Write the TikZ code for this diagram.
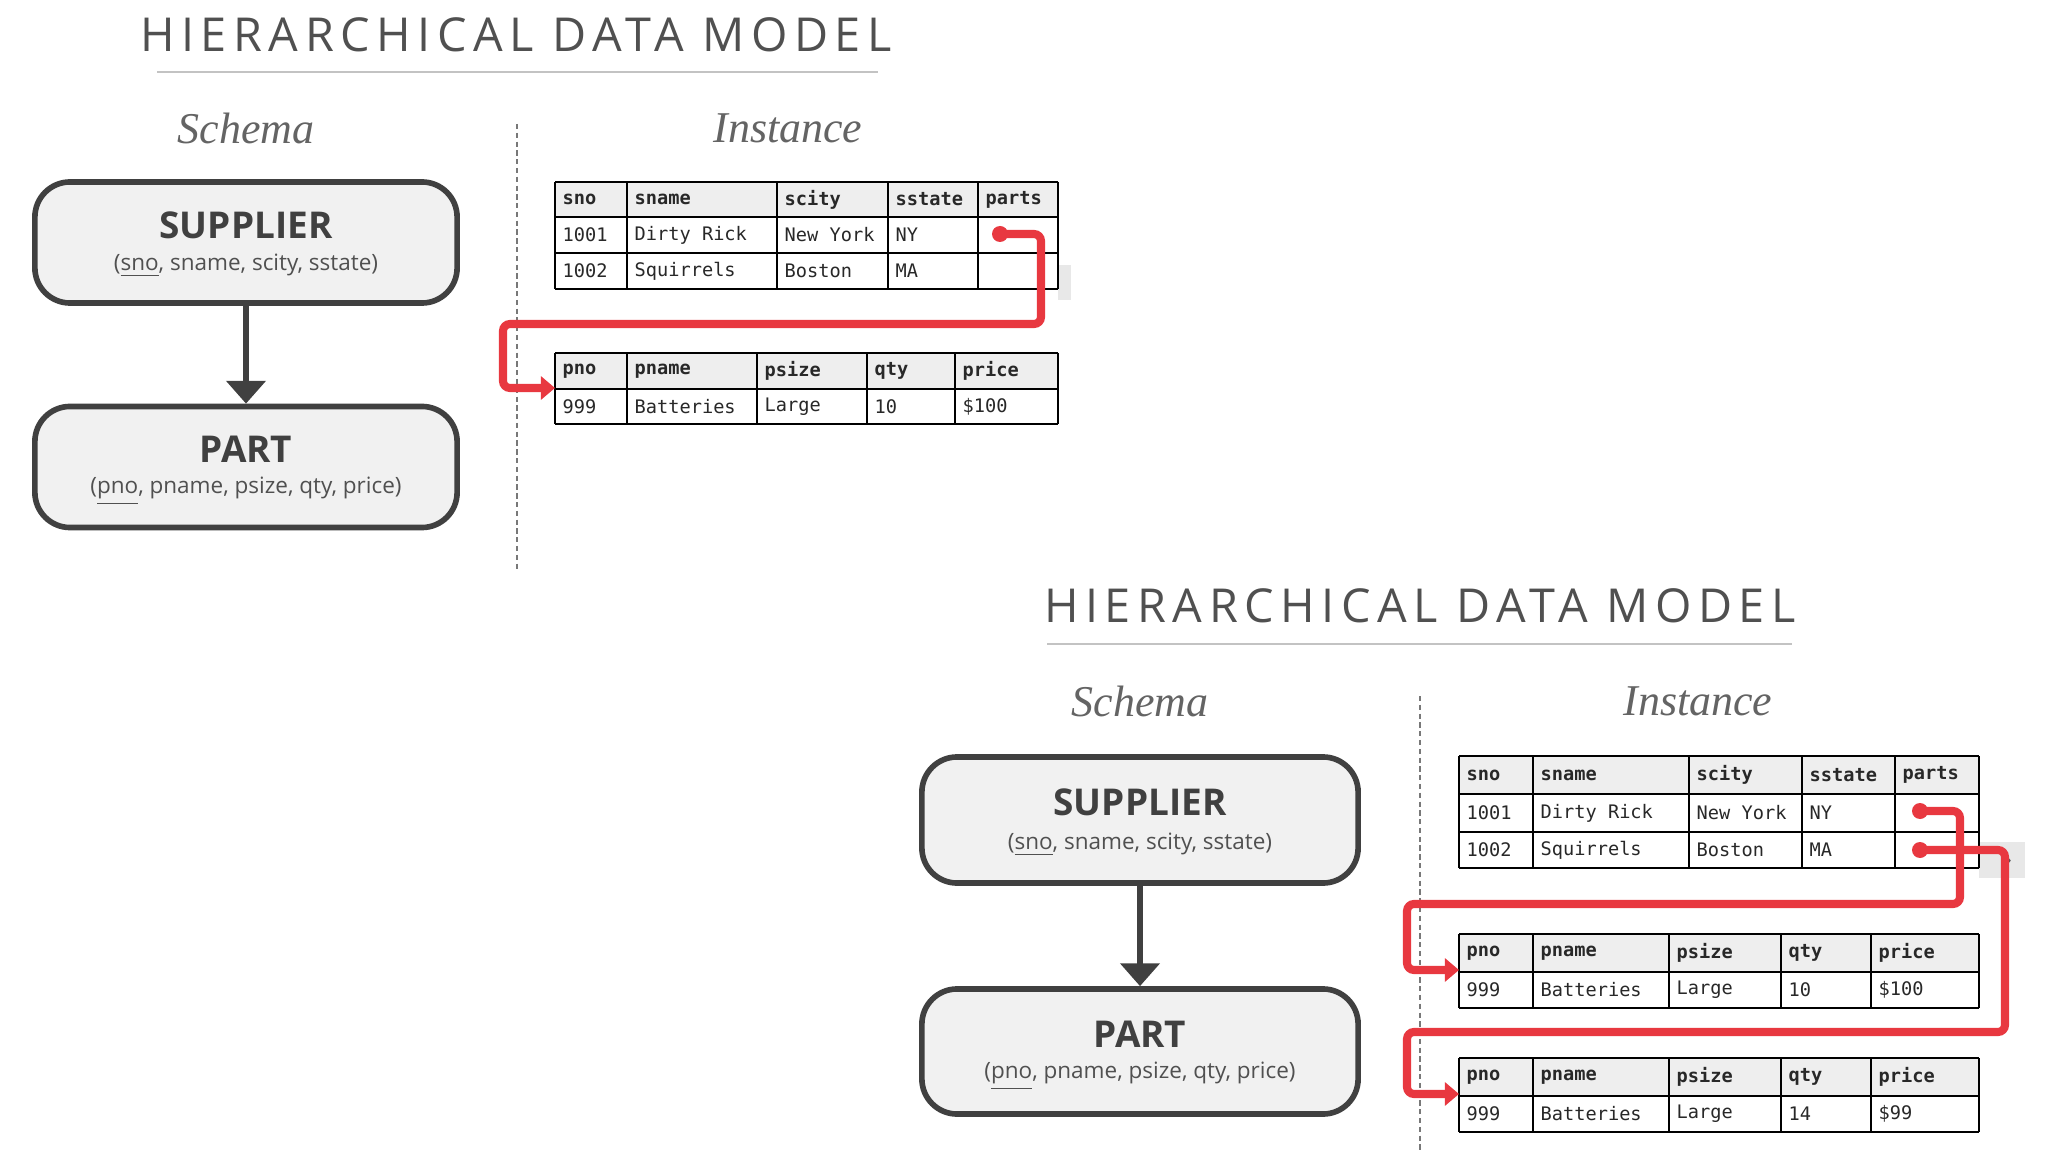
\documentclass[tikz,border=0pt]{standalone}
\usepackage{fontspec}
\setmainfont{Open Sans}
\newfontfamily\monof{DejaVu Sans Mono}
\newfontfamily\serf{Liberation Serif}
\newfontfamily\titlef[LetterSpace=14]{Open Sans}
\usetikzlibrary{arrows.meta}
\definecolor{redc}{RGB}{232,56,64}
\definecolor{boxb}{RGB}{64,64,64}
\definecolor{boxf}{RGB}{241,241,241}
\definecolor{hdrf}{RGB}{238,238,238}
\definecolor{txtg}{RGB}{80,80,80}
\definecolor{ruleg}{RGB}{195,195,195}
\definecolor{subg}{RGB}{100,100,100}
\definecolor{dashg}{RGB}{120,120,120}
\definecolor{celltx}{RGB}{40,40,40}
\definecolor{tabg}{RGB}{232,232,232}
\tikzset{
 sbox/.style={draw=boxb,fill=boxf,line width=1.6pt,rounded corners=10pt,minimum width=4.22cm,minimum height=1.21cm},
 ttl/.style={font=\titlef\fontsize{13.3}{15}\selectfont,text=txtg},
 rule/.style={draw=ruleg,line width=0.7pt},
 sub/.style={font=\serf\itshape\fontsize{12.5}{14}\selectfont,text=subg},
 vdash/.style={draw=dashg,line width=0.4pt,dash pattern=on 1.5pt off 1pt},
 bname/.style={font=\bfseries\fontsize{10.5}{12}\selectfont,text=boxb},
 battr/.style={font=\fontsize{6.4}{8}\selectfont,text=txtg},
 arr/.style={draw=boxb,line width=1.6pt,-{Triangle[length=6.5pt,width=11pt]}},
 rline/.style={draw=redc,line width=2.3pt,rounded corners=2pt,-{Triangle[length=4pt,width=6.5pt]}},
 rdot/.style={fill=redc},
 cell/.style={anchor=west,inner sep=0pt,font=\monof\fontsize{5.3}{6}\selectfont,text=celltx},
 grid/.style={draw=black,line width=0.7pt},
}
% #1 name, #2 cols, #3 rows, #4 last col idx, #5 last row idx, #6 content
\newcommand\mktable[6]{%
 \pgfmathsetmacro\xo{{#2}[0]}\pgfmathsetmacro\xn{{#2}[#4]}%
 \pgfmathsetmacro\yo{{#3}[0]}\pgfmathsetmacro\yi{{#3}[1]}\pgfmathsetmacro\yn{{#3}[#5]}%
 \fill[hdrf] (\xo,\yo) rectangle (\xn,\yi);
 \foreach \xx in {#2} {\draw[grid] (\xx,\yo) -- (\xx,\yn);}
 \foreach \yy in {#3} {\draw[grid] (\xo,\yy) -- (\xn,\yy);}
 \foreach \row [count=\r] in {#6} {
  \foreach \cl [count=\k] in \row {
   \pgfmathsetmacro\xa{{#2}[\k-1]}%
   \pgfmathsetmacro\ya{{#3}[\r-1]}\pgfmathsetmacro\yb{{#3}[\r]}%
   \ifnum\r=1\relax
    \node[cell,font=\monof\bfseries\fontsize{5.3}{6}\selectfont] (#1-\r-\k) at (\xa+7,{(\ya+\yb)/2}) {\cl};
   \else
    \node[cell] (#1-\r-\k) at (\xa+7,{(\ya+\yb)/2}) {\cl};
   \fi
  }
 }
}
\begin{document}
\begin{tikzpicture}[x=0.01cm,y=-0.01cm]
\useasboundingbox (0,0) rectangle (2048,1152);
\fill[white] (0,0) rectangle (2048,1152);
% ===== top =====
\node[ttl] (t1) at (516,35) {HIERARCHICAL DATA MODEL};
\coordinate (r1a) at (157,72); \coordinate (r1b) at (878,72);
\draw[rule] (r1a) -- (r1b);
\node[sub] (s1) at (246,128) {Schema};
\node[sub] (i1) at (788,128) {Instance};
\coordinate (d1a) at (517,124); \coordinate (d1b) at (517,571);
\draw[vdash] (d1a) -- (d1b);
\node[sbox] (sup1) at (246,242.5) {};
\node[bname] (sup1n) at (246,225) {SUPPLIER};
\node[battr] (sup1a) at (246,266) {(\underline{sno}, sname, scity, sstate)};
\node[sbox] (part1) at (246,467) {};
\node[bname] (part1n) at (246,449) {PART};
\node[battr] (part1a) at (246,491) {(\underline{pno}, pname, psize, qty, price)};
\draw[arr] (sup1.south) -- (part1.north);
\fill[tabg] (1058,265) rectangle (1071,300);
\mktable{ta}{555,627,777,888,978,1058}{182,217,253,289}{5}{3}{{sno,sname,scity,sstate,parts},{1001,Dirty Rick,New York,NY,},{1002,Squirrels,Boston,MA,}}
\mktable{tb}{555,627,757,867,955,1058}{353,389,424}{5}{2}{{pno,pname,psize,qty,price},{999,Batteries,Large,10,\$100}}
\coordinate (p1) at (1000,234);
\coordinate (p1t) at (555,388);
\fill[rdot] (p1) circle (8);
\draw[rline] (p1) -| (1041,324) -| (503,388) -- (p1t);
% ===== bottom =====
\node[ttl] (t2) at (1420,606) {HIERARCHICAL DATA MODEL};
\coordinate (r2a) at (1047,644); \coordinate (r2b) at (1792,644);
\draw[rule] (r2a) -- (r2b);
\node[sub] (s2) at (1140,701) {Schema};
\node[sub] (i2) at (1698,701) {Instance};
\coordinate (d2a) at (1420,696); \coordinate (d2b) at (1420,1152);
\draw[vdash] (d2a) -- (d2b);
\node[sbox,minimum width=4.36cm,minimum height=1.26cm] (sup2) at (1140,820) {};
\node[bname] (sup2n) at (1140,802) {SUPPLIER};
\node[battr] (sup2a) at (1140,845) {(\underline{sno}, sname, scity, sstate)};
\node[sbox,minimum width=4.36cm,minimum height=1.25cm] (part2) at (1140,1051.5) {};
\node[bname] (part2n) at (1140,1034) {PART};
\node[battr] (part2a) at (1140,1076) {(\underline{pno}, pname, psize, qty, price)};
\draw[arr] (sup2.south) -- (part2.north);
\fill[tabg] (1979,842) rectangle (2025,878);
\node[font=\fontsize{7}{8}\selectfont,text=txtg] (chev) at (2008,862) {›};
\mktable{tc}{1459,1533,1689,1802,1895,1979}{756,794,832,868}{5}{3}{{sno,sname,scity,sstate,parts},{1001,Dirty Rick,New York,NY,},{1002,Squirrels,Boston,MA,}}
\mktable{td}{1459,1533,1669,1781,1871,1979}{934,972,1008}{5}{2}{{pno,pname,psize,qty,price},{999,Batteries,Large,10,\$100}}
\mktable{te}{1459,1533,1669,1781,1871,1979}{1058,1096,1132}{5}{2}{{pno,pname,psize,qty,price},{999,Batteries,Large,14,\$99}}
\coordinate (q1) at (1920,811); \coordinate (q1t) at (1459,970);
\coordinate (q2) at (1920,850); \coordinate (q2t) at (1459,1094);
\fill[rdot] (q1) circle (8);
\fill[rdot] (q2) circle (8);
\draw[rline] (q1) -| (1960,904) -| (1407,970) -- (q1t);
\draw[rline] (q2) -| (2005,1032) -| (1407,1094) -- (q2t);
\end{tikzpicture}
\end{document}
